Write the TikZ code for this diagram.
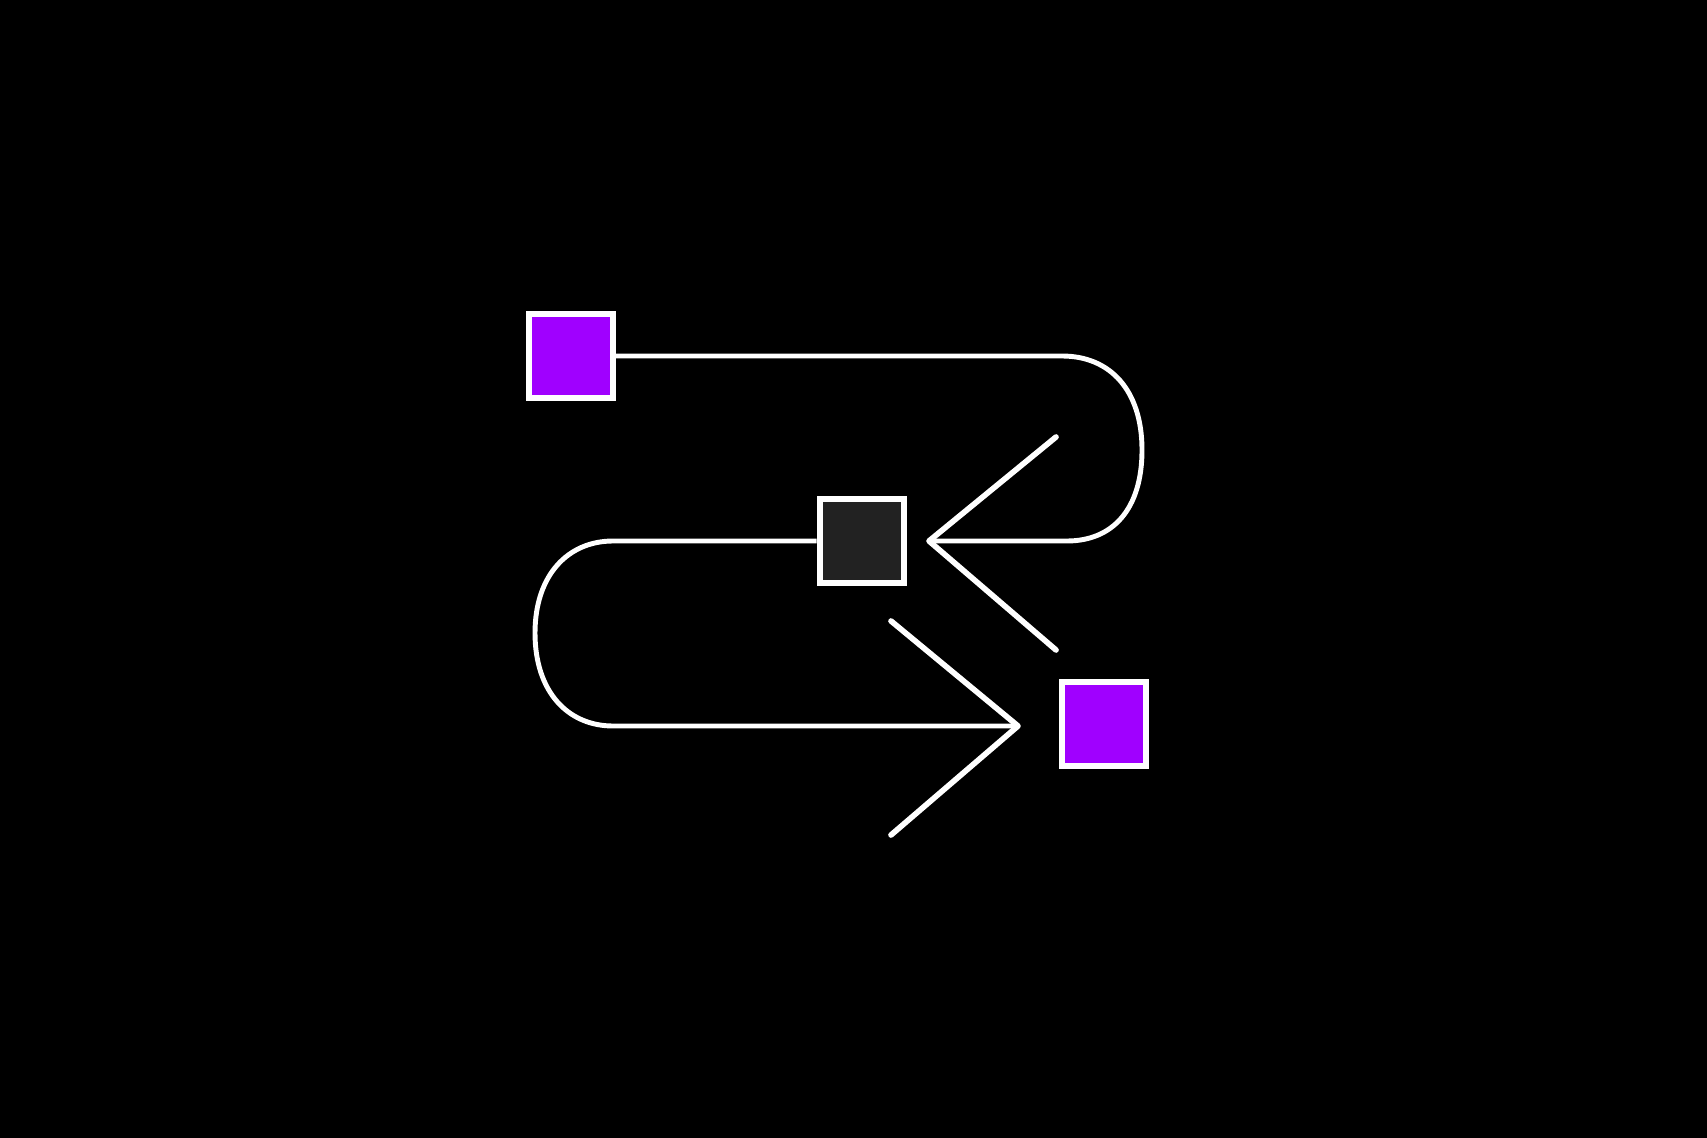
\documentclass[tikz,border=0pt]{standalone}
\definecolor{violetbox}{HTML}{A000FF}
\definecolor{darkbox}{HTML}{222222}

\begin{document}
\begin{tikzpicture}[box/.style={draw=white,line width=1.7pt,minimum size=0.84cm,inner sep=0pt},
                    wire/.style={white,line width=1.4pt},
                    chevron/.style={white,line width=1.6pt,line cap=round,line join=round}]
            \fill[black] (0,0) rectangle (17.07,-11.38);
            \useasboundingbox (0,0) rectangle (17.07,-11.38);
            \node[box,fill=violetbox] (start) at (5.71,-3.56) {};
            \node[box,fill=darkbox] (mid) at (8.615,-5.41) {};
            \node[box,fill=violetbox] (stop) at (11.04,-7.24) {};
            \coordinate (tipA) at (9.29,-5.41);
            \coordinate (tipB) at (10.18,-7.26);
            \draw[wire] (start.east)--(10.62,-3.56) .. controls (11.1,-3.56) and (11.42,-3.9) .. (11.42,-4.5)
                .. controls (11.42,-5.1) and (11.12,-5.41) .. (10.67,-5.41)--(tipA);
            \draw[wire] (mid.west)--(6.13,-5.41) .. controls (5.68,-5.41) and (5.35,-5.75) .. (5.35,-6.33)
                .. controls (5.35,-6.92) and (5.68,-7.26) .. (6.13,-7.26)--(tipB);
            \draw[chevron] (10.56,-4.37)--(tipA)--(10.56,-6.50);
            \draw[chevron] (8.91,-6.21)--(tipB)--(8.91,-8.35);
        \end{tikzpicture}
\end{document}
